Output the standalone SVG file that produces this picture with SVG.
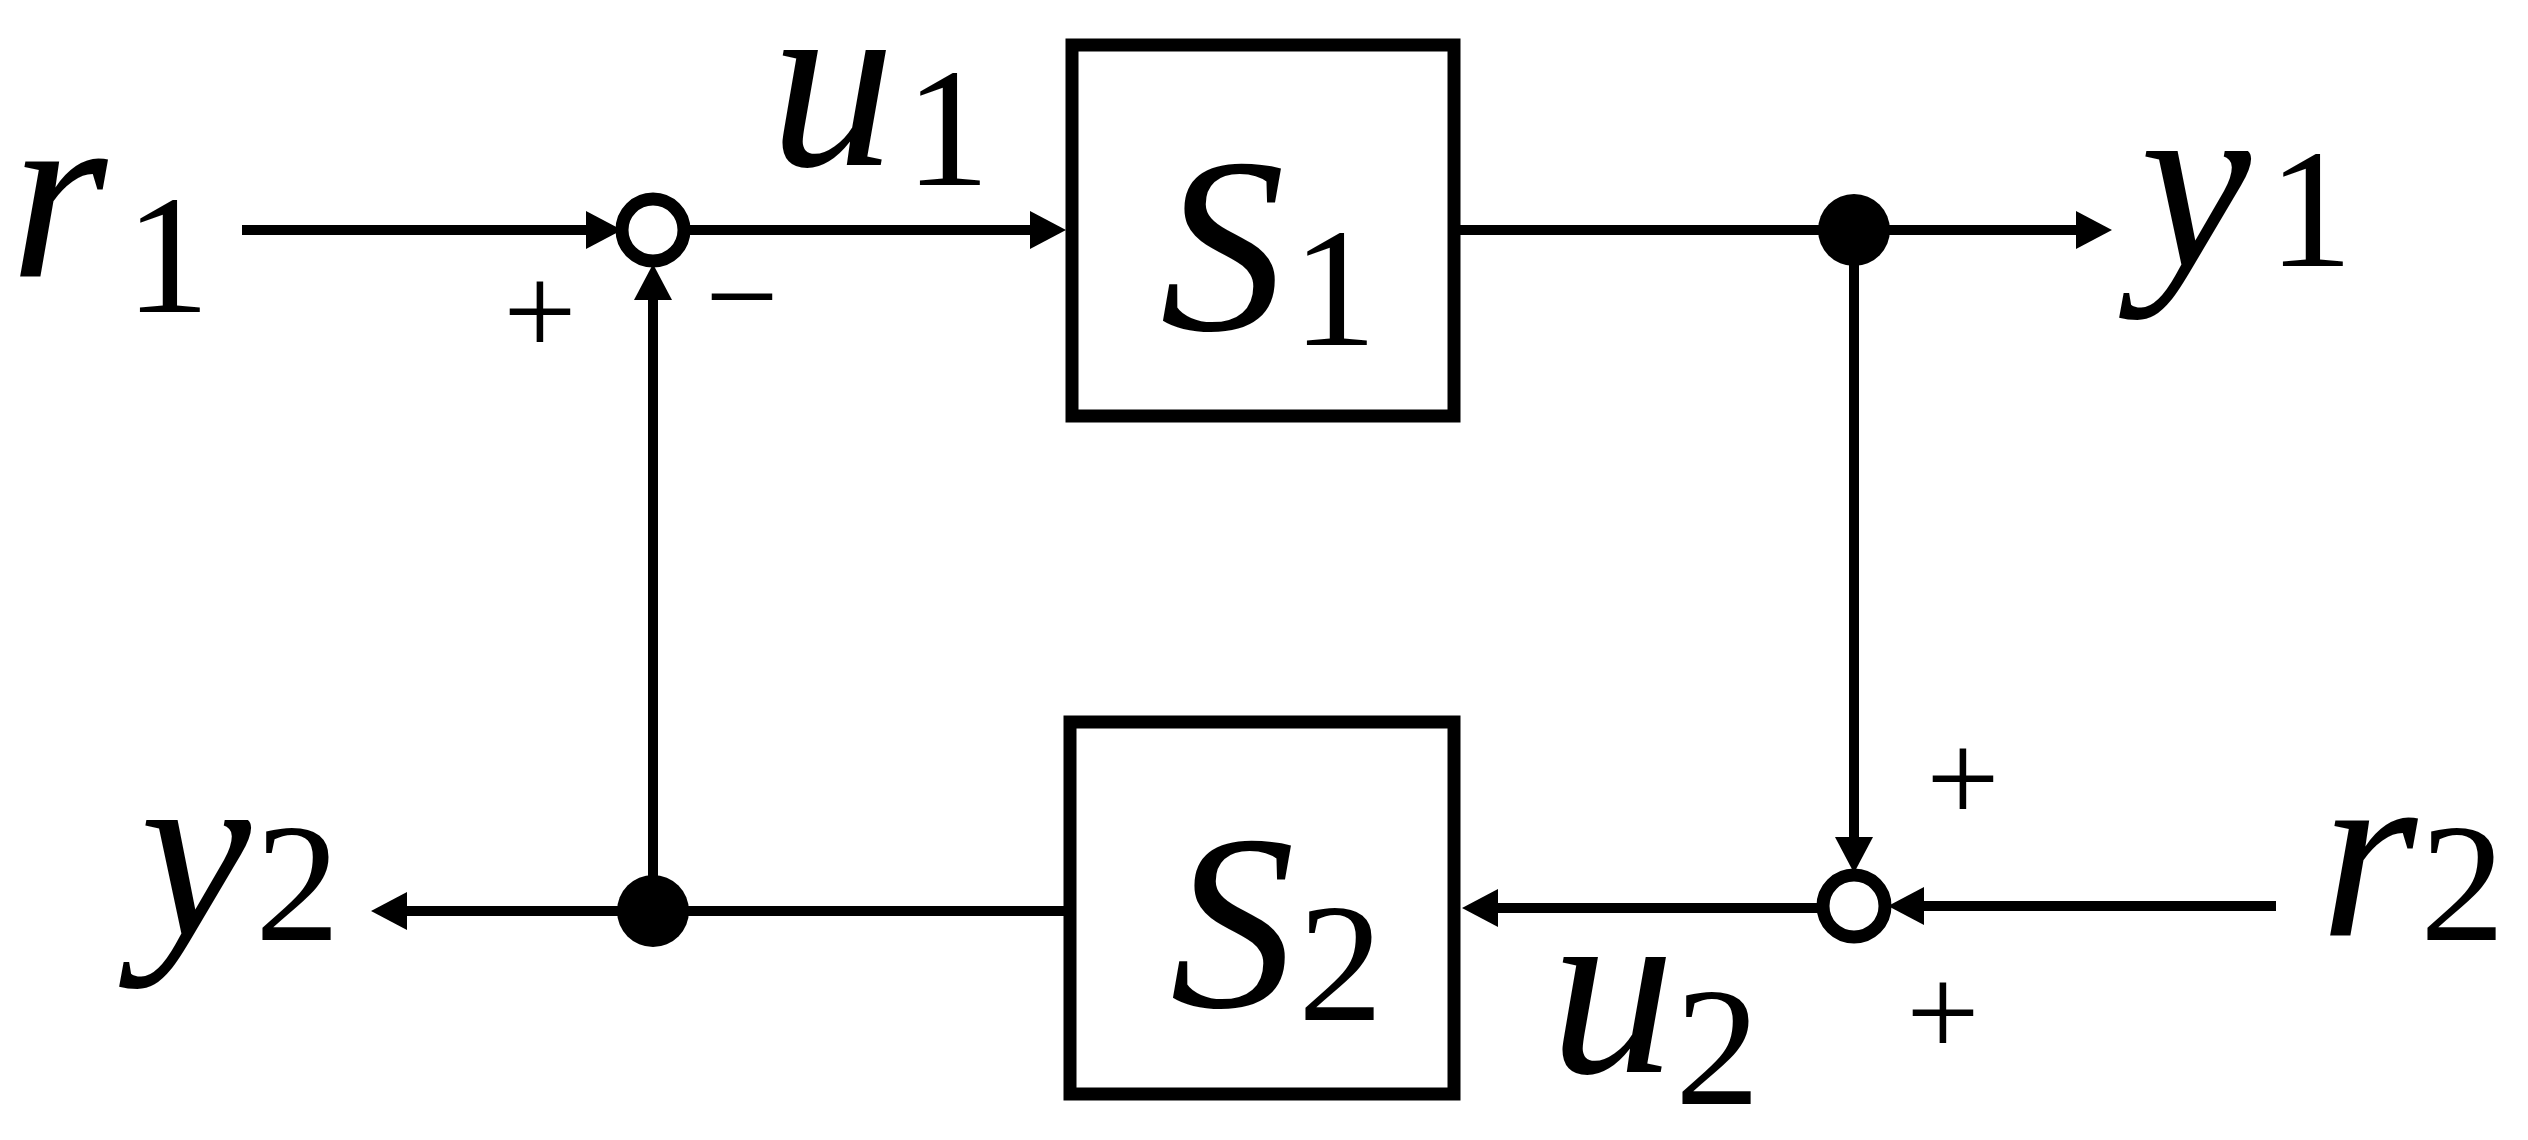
<svg xmlns="http://www.w3.org/2000/svg" width="2528" height="1140" viewBox="0 0 2528 1140">
<style>
.l{stroke:#000;stroke-width:10;fill:none}
.b{stroke:#000;stroke-width:13;fill:#fff}
.m{font-family:'Liberation Serif','Times New Roman',serif;font-style:italic;font-size:250px}
.s{font-family:'Liberation Serif','Times New Roman',serif;font-size:170px}
.g{font-family:'Liberation Serif',serif;font-size:130px;text-anchor:middle}
</style>
<defs>
<path id="ah" d="M0,0 L-36,-19 L-36,19 Z" fill="#000"/>
</defs>
<g id="connectors">
<line class="l" x1="242" y1="230" x2="590" y2="230"/><use href="#ah" transform="translate(622,230)"/>
<line class="l" x1="689" y1="230" x2="1036" y2="230"/><use href="#ah" transform="translate(1066,230)"/>
<line class="l" x1="1460" y1="230" x2="2082" y2="230"/><use href="#ah" transform="translate(2112,230)"/>
<line class="l" x1="1854" y1="230" x2="1854" y2="843"/><use href="#ah" transform="translate(1854,873) rotate(90)"/>
<line class="l" x1="2276" y1="906" x2="1918" y2="906"/><use href="#ah" transform="translate(1888,906) rotate(180)"/>
<line class="l" x1="1820" y1="908" x2="1492" y2="908"/><use href="#ah" transform="translate(1462,908) rotate(180)"/>
<line class="l" x1="1064" y1="911" x2="401" y2="911"/><use href="#ah" transform="translate(371,911) rotate(180)"/>
<line class="l" x1="653" y1="911" x2="653" y2="294"/><use href="#ah" transform="translate(653,264) rotate(-90)"/>
</g>
<g id="sum1"><circle class="b" cx="653" cy="230" r="31" stroke-width="10"/></g>
<g id="sum2"><circle class="b" cx="1854" cy="906" r="31" stroke-width="10"/></g>
<g id="dot1"><circle cx="1854" cy="230" r="36"/></g>
<g id="dot2"><circle cx="653" cy="911" r="36"/></g>
<g id="S1"><rect class="b" x="1072" y="45" width="382" height="371"/><text class="m" x="1160" y="330">S</text><text class="s" x="1292" y="345">1</text></g>
<g id="S2"><rect class="b" x="1070" y="722" width="384" height="372"/><text class="m" x="1170" y="1007">S</text><text class="s" x="1298" y="1020">2</text></g>
<g id="labels">
<text class="m" x="10" y="276">r</text><text class="s" x="125" y="312">1</text>
<text class="m" x="770" y="165">u</text><text class="s" x="905" y="185">1</text>
<text class="m" x="2140" y="266">y</text><text class="s" x="2268" y="266">1</text>
<text class="m" x="140" y="935">y</text><text class="s" x="255" y="940">2</text>
<text class="m" x="1550" y="1072">u</text><text class="s" x="1675" y="1104">2</text>
<text class="m" x="2320" y="935">r</text><text class="s" x="2420" y="940">2</text>
<text class="g" x="540" y="355">+</text>
<text class="g" x="742" y="340">−</text>
<text class="g" x="1963" y="822">+</text>
<text class="g" x="1943" y="1056">+</text>
</g>
</svg>
